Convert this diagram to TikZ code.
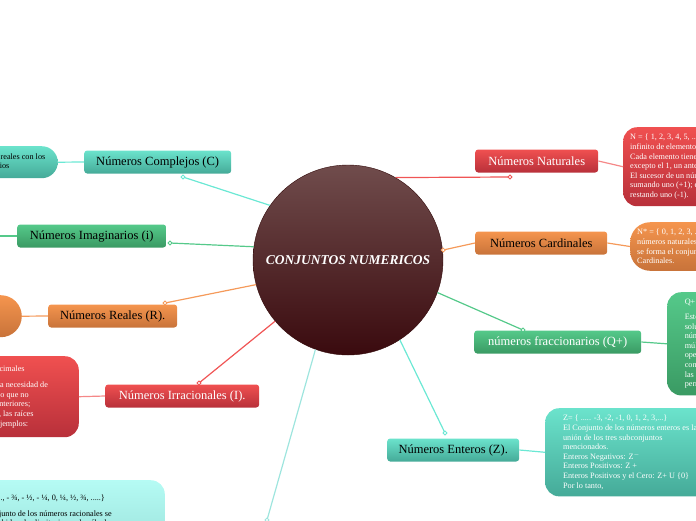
\documentclass[tikz,border=0pt]{standalone}
\usepackage{fontspec}
\setmainfont{Liberation Serif}
\begin{document}
\begin{tikzpicture}[x=1pt,y=-1pt,
  lab/.style={rounded corners=3pt,minimum height=23pt,inner xsep=7pt,font=\fontsize{12.5}{14}\selectfont,anchor=west,text=black},
  det/.style={rounded corners=14pt,anchor=north west,align=left,font=\fontsize{8.2}{9.6}\selectfont,inner sep=7pt,text=white},
  conn/.style={line width=1.2pt},
  endc/.style={circle,draw,fill=white,inner sep=1.4pt,line width=0.8pt},
  cred/.style={top color=red1,bottom color=red2},
  cora/.style={top color=ora1,bottom color=ora2},
  cgre/.style={top color=gre1,bottom color=gre2},
  ctea/.style={top color=tea1,bottom color=tea2}]
\definecolor{red1}{HTML}{F05050}\definecolor{red2}{HTML}{B8303A}
\definecolor{ora1}{HTML}{F5954E}\definecolor{ora2}{HTML}{C8733A}
\definecolor{gre1}{HTML}{55C98A}\definecolor{gre2}{HTML}{3A9A63}
\definecolor{tea1}{HTML}{6BE3CC}\definecolor{tea2}{HTML}{45AA98}
\definecolor{cya1}{HTML}{B5FBF4}\definecolor{cya2}{HTML}{9EE5DE}
\definecolor{lred}{HTML}{F05555}\definecolor{lora}{HTML}{F59A5A}
\definecolor{lgre}{HTML}{55C98A}\definecolor{ltea}{HTML}{6BE8D4}
\useasboundingbox (0,0) rectangle (696,520);
% centre
\node[circle,minimum size=190pt,top color={rgb,255:red,112;green,76;blue,76},bottom color={rgb,255:red,58;green,10;blue,14},draw={rgb,255:red,50;green,10;blue,10},text=white,font=\bfseries\itshape\fontsize{13.5}{15}\selectfont] (c) at (348,260) {CONJUNTOS NUMERICOS};
% right labels
\node[lab,cred,text=white,minimum width=123pt] (nat) at (475,161) {Números Naturales\hfill};
\node[lab,cora,minimum width=132pt,align=left] (car) at (475,243) {Números Cardinales};
\node[lab,cgre,text=white,minimum width=167pt] (fra) at (474,342) {números fraccionarios (Q+)};
\node[lab,ctea,minimum width=132pt] (ent) at (387,450) {Números Enteros (Z).};
% left labels
\node[lab,ctea,minimum width=147pt] (com) at (84,162) {Números Complejos (C)};
\node[lab,cgre,minimum width=149pt] (ima) at (17,236) {Números Imaginarios (i)};
\node[lab,cora,minimum width=129pt] (rea) at (48,316) {Números Reales (R).};
\node[lab,cred,text=white,minimum width=154pt] (irr) at (105,396) {Números Irracionales (I).};
% details
\node[det,cred,minimum width=120pt,minimum height=70pt] (dnat) at (623,127) {N = \{ 1, 2, 3, 4, 5, ...\}\\infinito de elementos\\Cada elemento tiene sucesor y\\excepto el 1, un antecesor.\\El sucesor de un número se obtiene\\sumando uno (+1); el antecesor\\restando uno (-1).};
\node[det,cora,minimum width=100pt,minimum height=43pt,rounded corners=20pt] (dcar) at (630,222) {N* = \{ 0, 1, 2, 3, ...\}\\números naturales con el cero\\se forma el conjunto de los\\Cardinales.};
\node[det,cgre,minimum width=80pt,minimum height=100pt] (dfra) at (667,292) {Q+ = \{...\}\\[5pt]Este conjunto\\solución de\\números que\\múltiplos\\operaciones\\conjunto\\las\\permite};
\node[det,ctea,minimum width=170pt,minimum height=82pt] (dent) at (545,408) {Z= \{ ..... -3, -2, -1, 0, 1, 2, 3,...\}\\El Conjunto de los números enteros es la\\unión de los tres subconjuntos\\mencionados.\\Enteros Negativos: Z$^-$\\Enteros Positivos: Z +\\Enteros Positivos y el Cero: Z+ U \{0\}\\Por lo tanto,};
\node[det,ctea,minimum width=130pt,minimum height=32pt,rounded corners=16pt,anchor=north east,text=black,inner sep=5pt] (dcom) at (58,146) {Es la unión de los reales con los\\números imaginarios};
\node[det,cora,minimum width=80pt,minimum height=42pt,rounded corners=21pt,anchor=north east] (drea) at (22,295) {};
\node[det,cred,minimum width=150pt,minimum height=81pt,anchor=north east,align=left] (dirr) at (79,356) {Números decimales\\[7pt]Surgen por la necesidad de\\representar lo que no\\cubren los anteriores;\\por ejemplo, las raíces\\inexactas. Ejemplos:};
\node[det,top color=cya1,bottom color=cya2,text=black,minimum width=240pt,minimum height=60pt,anchor=north east] (drac) at (165,480) {Q = \{..., - ¾, - ½, - ¼, 0, ¼, ½, ¾, .....\}\\[6pt]El conjunto de los números racionales se\\creó debido a las limitaciones de cálculo};
% connectors
\draw[conn,lred] (c.60) -- (510,177) node[endc,draw=lred]{};
\draw[conn,lred!70] (nat.east) -- (dnat.west);
\draw[conn,lora] (c.east) ++(0,-10) -- (car.west) node[endc,draw=lora,pos=0]{};
\draw[conn,lora] (car.east) -- (dcar.west);
\draw[conn,lgre] (c.-20) -- (523,330) node[endc,draw=lgre]{};
\draw[conn,lgre] (fra.east) -- (dfra.west);
\draw[conn,ltea] (c.-57) -- (445,433) node[endc,draw=ltea]{};
\draw[conn,ltea] (ent.east) -- (dent.west);
\draw[conn,ltea] (c.145) -- (183,177) node[endc,draw=ltea]{};
\draw[conn,ltea] (com.west) -- (dcom.east);
\draw[conn,lgre] (c.172) -- (170,243) node[endc,draw=lgre]{};
\draw[conn,lgre] (ima.west) -- (0,236);
\draw[conn,lora] (c.195) -- (165,303) node[endc,draw=lora]{};
\draw[conn,lora] (rea.west) -- (drea.east);
\draw[conn,lred] (c.-140) -- (199,383) node[endc,draw=lred]{};
\draw[conn,lred!70] (irr.west) -- (dirr.east);
\coordinate (bot) at (267,520);
\draw[conn,cya2] (c.-110) -- (bot) node[endc,draw=cya2]{};
\end{tikzpicture}
\end{document}
